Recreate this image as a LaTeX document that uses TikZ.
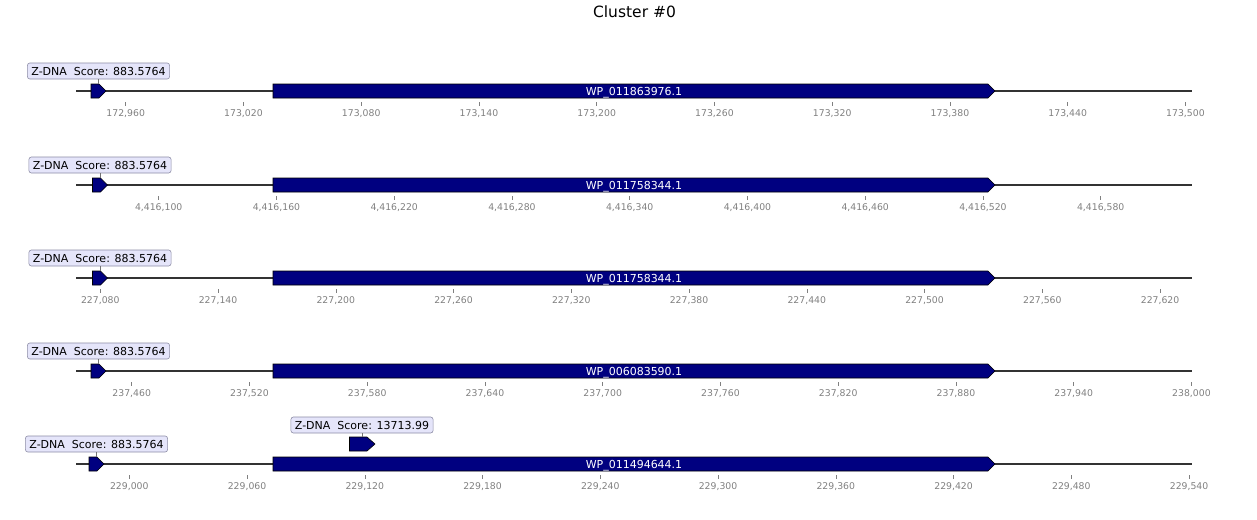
\documentclass[tikz,border=0pt]{standalone}
\usepackage{fontspec}
\setmainfont{DejaVu Sans}
\usetikzlibrary{positioning}
\definecolor{navygene}{RGB}{0,0,128}
\definecolor{boxfill}{RGB}{229,229,250}
\definecolor{boxedge}{RGB}{140,140,165}
\definecolor{tickgrey}{RGB}{128,128,128}

\begin{document}
\begin{tikzpicture}[x=1pt,y=-1pt,
  gene/.style = {draw=black, line width=0.6pt, fill=navygene},
  axisline/.style = {draw=black!80, line width=1.1pt},
  zbox/.style = {draw=boxedge, fill=boxfill, rounded corners=2.5pt, line width=0.6pt,
                 inner xsep=4pt, inner ysep=0pt, minimum height=16pt,
                 font=\fontsize{11}{11}\selectfont},
  zlink/.style = {draw=black!55, line width=0.5pt},
  tickmark/.style = {draw=tickgrey, line width=0.5pt},
  ticklab/.style = {text=tickgrey, anchor=base, inner sep=0pt, font=\fontsize{9.3}{10}\selectfont},
  genelab/.style = {text=white, anchor=base, inner sep=0pt, font=\fontsize{11}{11}\selectfont},]
\useasboundingbox (0,0) rectangle (1257,519);
\node (title) at (634.5,17.5)[anchor=base, inner sep=0pt, font=\fontsize{15.5}{16}\selectfont] {Cluster \#0};

% track 1
\draw[axisline] (76,91) -- (1191.5,91);
\draw[gene] (91,84) -- (99,84) -- (106,91) -- (99,98) -- (91,98) -- cycle;
\draw[gene] (273,84) -- (988,84) -- (995,91) -- (988,98) -- (273,98) -- cycle;
\node (g1) at (634,95)[genelab] {WP\_011863976.1};
\node (z1) at (98.5,71)[zbox] {Z-DNA\ \ Score: 883.5764};
\coordinate (f1) at (98.5,84);
\draw[zlink] (z1.south) -- (f1);
\foreach \lab [count=\i from 0] in {{172,960},{173,020},{173,080},{173,140},{173,200},{173,260},{173,320},{173,380},{173,440},{173,500}}{
  \draw[tickmark] (125.7+117.75*\i,102) -- ++(0,4);
  \node (a\i) at (125.7+117.75*\i,116.5)[ticklab] {\lab};
}

% track 2
\draw[axisline] (76,185) -- (1191.5,185);
\draw[gene] (92.5,178) -- (100.5,178) -- (107.5,185) -- (100.5,192) -- (92.5,192) -- cycle;
\draw[gene] (273,178) -- (988,178) -- (995,185) -- (988,192) -- (273,192) -- cycle;
\node (g2) at (634,189)[genelab] {WP\_011758344.1};
\node (z2) at (100,165)[zbox] {Z-DNA\ \ Score: 883.5764};
\coordinate (f2) at (100,178);
\draw[zlink] (z2.south) -- (f2);
\foreach \lab [count=\i from 0] in {{4,416,100},{4,416,160},{4,416,220},{4,416,280},{4,416,340},{4,416,400},{4,416,460},{4,416,520},{4,416,580}}{
  \draw[tickmark] (158.7+117.75*\i,196) -- ++(0,4);
  \node (b\i) at (158.7+117.75*\i,210.5)[ticklab] {\lab};
}

% track 3
\draw[axisline] (76,278) -- (1191.5,278);
\draw[gene] (92.5,271) -- (100.5,271) -- (107.5,278) -- (100.5,285) -- (92.5,285) -- cycle;
\draw[gene] (273,271) -- (988,271) -- (995,278) -- (988,285) -- (273,285) -- cycle;
\node (g3) at (634,282)[genelab] {WP\_011758344.1};
\node (z3) at (100,258)[zbox] {Z-DNA\ \ Score: 883.5764};
\coordinate (f3) at (100,271);
\draw[zlink] (z3.south) -- (f3);
\foreach \lab [count=\i from 0] in {{227,080},{227,140},{227,200},{227,260},{227,320},{227,380},{227,440},{227,500},{227,560},{227,620}}{
  \draw[tickmark] (100.3+117.75*\i,289) -- ++(0,4);
  \node (c\i) at (100.3+117.75*\i,303.5)[ticklab] {\lab};
}

% track 4
\draw[axisline] (76,371) -- (1191.5,371);
\draw[gene] (91,364) -- (99,364) -- (106,371) -- (99,378) -- (91,378) -- cycle;
\draw[gene] (273,364) -- (988,364) -- (995,371) -- (988,378) -- (273,378) -- cycle;
\node (g4) at (634,375)[genelab] {WP\_006083590.1};
\node (z4) at (98.5,351)[zbox] {Z-DNA\ \ Score: 883.5764};
\coordinate (f4) at (98.5,364);
\draw[zlink] (z4.south) -- (f4);
\foreach \lab [count=\i from 0] in {{237,460},{237,520},{237,580},{237,640},{237,700},{237,760},{237,820},{237,880},{237,940},{238,000}}{
  \draw[tickmark] (131.7+117.75*\i,382) -- ++(0,4);
  \node (d\i) at (131.7+117.75*\i,396.5)[ticklab] {\lab};
}

% track 5
\draw[axisline] (76,464) -- (1191.5,464);
\draw[gene] (89,457) -- (97,457) -- (104,464) -- (97,471) -- (89,471) -- cycle;
\draw[gene] (273,457) -- (988,457) -- (995,464) -- (988,471) -- (273,471) -- cycle;
\draw[gene] (349.5,437) -- (367,437) -- (375,444) -- (367,451) -- (349.5,451) -- cycle;
\node (g5) at (634,468)[genelab] {WP\_011494644.1};
\node (z5) at (96.5,444)[zbox] {Z-DNA\ \ Score: 883.5764};
\coordinate (f5) at (96.5,457);
\draw[zlink] (z5.south) -- (f5);
\node (z6) at (362,425)[zbox] {Z-DNA\ \ Score: 13713.99};
\coordinate (f6) at (362,437);
\draw[zlink] (z6.south) -- (f6);
\foreach \lab [count=\i from 0] in {{229,000},{229,060},{229,120},{229,180},{229,240},{229,300},{229,360},{229,420},{229,480},{229,540}}{
  \draw[tickmark] (129.3+117.75*\i,475) -- ++(0,4);
  \node (e\i) at (129.3+117.75*\i,489.5)[ticklab] {\lab};
}
\end{tikzpicture}
\end{document}
